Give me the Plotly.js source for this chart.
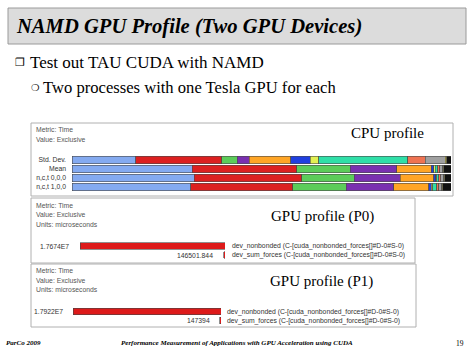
<!DOCTYPE html>
<html><head><meta charset="utf-8">
<script src="https://cdn.plot.ly/plotly-3.0.1.min.js"></script>
<style>html,body{margin:0;padding:0;background:#fff}#chart{width:474px;height:355px}</style>
</head><body><div id="chart"></div>
<script>
// CPU profile rows (relative exclusive time)
const cpuRows = ["Std. Dev.", "Mean", "n,c,t 0,0,0", "n,c,t 1,0,0"];
const cpuColors = ["#84aaf0","#dc2020","#5ccc5a","#7a30b0","#ffa526","#2040e0","#e2f052","#30dfa8","#ef7352","#a0a0a0","#f0e040","#111111"];
const f1  = [191, 360, 366, 355];
const f2  = [257, 313, 322, 306];
const f3  = [47, 160, 157, 160];
const f4  = [36, 140, 138, 142];
const f5  = [124, 103, 100, 105];
const f6  = [58, 8, 7, 8];
const f7  = [26, 4, 3, 4];
const f8  = [267, 8, 6, 12];
const f9  = [52, 6, 6, 6];
const f10 = [60, 8, 8, 10];
const f11 = [5, 3, 3, 3];
const f12 = [12, 22, 19, 24];
const cpuSeries = [f1,f2,f3,f4,f5,f6,f7,f8,f9,f10,f11,f12];

// GPU profiles (microseconds)
const gpuNames = ["dev_nonbonded (C-[cuda_nonbonded_forces[]#D-0#S-0)", "dev_sum_forces (C-[cuda_nonbonded_forces[]#D-0#S-0)"];
const p0Values = [17674000, 146501.844];
const p0Labels = ["1.7674E7", "146501.844"];
const p1Values = [17922000, 147394];
const p1Labels = ["1.7922E7", "147394"];

const W = 474, H = 355;
const px = v => v / W, py = v => 1 - v / H;
const serif = "Liberation Serif";
const sans = "Liberation Sans";

const traces = [];
cpuSeries.forEach((s, i) => {
  traces.push({type:"bar", orientation:"h", x:s, y:cpuRows, xaxis:"x", yaxis:"y",
    width:0.78, marker:{color:cpuColors[i], line:{color:"#4a4a4a", width:0.6}},
    hoverinfo:"skip", showlegend:false});
});
traces.push({type:"bar", orientation:"h", x:p0Values, y:gpuNames, xaxis:"x2", yaxis:"y2",
  width:0.7, marker:{color:"#dd1a1a", line:{color:"#444", width:0.6}}, hoverinfo:"skip", showlegend:false});
traces.push({type:"bar", orientation:"h", x:p1Values, y:gpuNames, xaxis:"x3", yaxis:"y3",
  width:0.7, marker:{color:"#dd1a1a", line:{color:"#444", width:0.6}}, hoverinfo:"skip", showlegend:false});

const hidden = {showgrid:false, zeroline:false, showline:false, showticklabels:false, ticks:"", fixedrange:true};
const annotations = [];
function txt(x, y, text, size, family, color, anchor) {
  annotations.push({xref:"paper", yref:"paper", x:px(x), y:py(y), text:text, showarrow:false,
    xanchor:anchor || "left", yanchor:"middle", font:{family:family, size:size, color:color}});
}
// header
txt(14, 26, "<b><i>NAMD GPU Profile (Two GPU Devices)</i></b>", 20.6, serif, "#000");
txt(13, 63, "❐", 11, "DejaVu Sans", "#000");
txt(28, 63, "Test out TAU CUDA with NAMD", 17, serif, "#000");
txt(29, 87, "❍", 9.5, "DejaVu Sans", "#000");
txt(41, 87, "Two processes with one Tesla GPU for each", 16.6, serif, "#000");
// panels text
const g = "#555";
txt(34, 130, "Metric: Time", 6.8, sans, g);
txt(34, 139.5, "Value: Exclusive", 6.8, sans, g);
txt(349, 133, "CPU profile", 15, serif, "#000");
txt(34, 205, "Metric: Time", 6.8, sans, g);
txt(34, 214.5, "Value: Exclusive", 6.8, sans, g);
txt(34, 224, "Units: microseconds", 6.8, sans, g);
txt(269, 216, "GPU profile (P0)", 15, serif, "#000");
txt(34, 270.5, "Metric: Time", 6.8, sans, g);
txt(34, 280, "Value: Exclusive", 6.8, sans, g);
txt(34, 289.5, "Units: microseconds", 6.8, sans, g);
txt(268, 281, "GPU profile (P1)", 15, serif, "#000");
// footer
txt(4, 343, "<b><i>ParCo 2009</i></b>", 7, serif, "#000");
txt(237, 343, "<b><i>Performance Measurement of Applications with GPU Acceleration using CUDA</i></b>", 7, serif, "#000", "center");
txt(466, 343, "19", 7.5, serif, "#000", "right");
// GPU value labels
p0Values.forEach((v, i) => annotations.push({xref:"x2", yref:"y2", x:v, y:gpuNames[i], text:p0Labels[i], showarrow:false,
  xanchor:"right", yanchor:"middle", xshift:-9, font:{family:sans, size:6.8, color:"#333"}}));
p1Values.forEach((v, i) => annotations.push({xref:"x3", yref:"y3", x:v, y:gpuNames[i], text:p1Labels[i], showarrow:false,
  xanchor:"right", yanchor:"middle", xshift:-8, font:{family:sans, size:6.8, color:"#333"}}));

const shapes = [
  {type:"rect", xref:"paper", yref:"paper", x0:px(8), x1:px(466), y0:py(44), y1:py(8), fillcolor:"#dcdcdc", line:{color:"#9a9a9a", width:1}, layer:"below"},
  {type:"rect", xref:"paper", yref:"paper", x0:px(31), x1:px(453), y0:py(196), y1:py(123), line:{color:"#b0b0b0", width:1}, layer:"below"},
  {type:"rect", xref:"paper", yref:"paper", x0:px(31), x1:px(415), y0:py(263), y1:py(198), line:{color:"#b0b0b0", width:1}, layer:"below"},
  {type:"rect", xref:"paper", yref:"paper", x0:px(31), x1:px(416), y0:py(327), y1:py(264), line:{color:"#b0b0b0", width:1}, layer:"below"}
];

const layout = {
  width:W, height:H, margin:{l:0, r:0, t:0, b:0}, paper_bgcolor:"#fff", plot_bgcolor:"rgba(0,0,0,0)",
  barmode:"stack", showlegend:false,
  xaxis:Object.assign({}, hidden, {domain:[px(72), px(451)], range:[0, 1135], anchor:"y"}),
  yaxis:{domain:[py(191.5), py(155.5)], anchor:"x", autorange:"reversed", type:"category", showgrid:false, zeroline:false,
    showline:false, ticks:"", ticklabelstandoff:5, tickfont:{family:sans, size:6.8, color:"#333"}, fixedrange:true},
  xaxis2:Object.assign({}, hidden, {domain:[px(80), px(225)], range:[p0Values[0], 0], anchor:"y2"}),
  yaxis2:{domain:[py(260.5), py(240.5)], anchor:"x2", side:"right", autorange:"reversed", type:"category", showgrid:false,
    zeroline:false, showline:false, ticks:"", ticklabelstandoff:6, tickfont:{family:sans, size:6.8, color:"#333"}, fixedrange:true},
  xaxis3:Object.assign({}, hidden, {domain:[px(73), px(221)], range:[p1Values[0], 0], anchor:"y3"}),
  yaxis3:{domain:[py(326), py(306)], anchor:"x3", side:"right", autorange:"reversed", type:"category", showgrid:false,
    zeroline:false, showline:false, ticks:"", ticklabelstandoff:5, tickfont:{family:sans, size:6.8, color:"#333"}, fixedrange:true},
  annotations:annotations, shapes:shapes
};
Plotly.newPlot("chart", traces, layout, {staticPlot:true, displayModeBar:false});
</script></body></html>
